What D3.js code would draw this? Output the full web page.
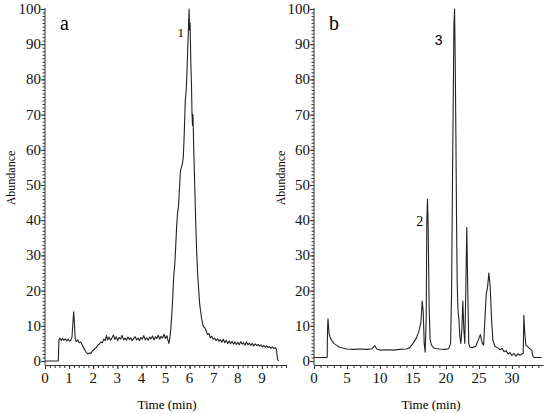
<!DOCTYPE html>
<meta charset="utf-8">
<style>
  body { margin: 0; background: #fff; }
</style>
<svg width="550" height="414"></svg>
<script src="https://d3js.org/d3.v7.min.js"></script>
<script>

// panel a: retention time (min) and abundance
var timeA = [0, 0.5, 0.55, 0.58, 0.62, 0.68, 0.72, 0.78, 0.84, 0.9, 0.96, 1.02, 1.08, 1.12, 1.16, 1.19, 1.22, 1.25, 1.3, 1.36,
  1.42, 1.48, 1.54, 1.6, 1.66, 1.72, 1.78, 1.84, 1.9, 1.96, 2.02, 2.08, 2.14, 2.2, 2.26, 2.32, 2.38, 2.44, 2.5, 2.55,
  2.6, 2.66, 2.72, 2.78, 2.84, 2.9, 2.96, 3.02, 3.08, 3.14, 3.2, 3.26, 3.32, 3.38, 3.44, 3.5, 3.56, 3.62, 3.68, 3.74,
  3.8, 3.86, 3.92, 3.98, 4.04, 4.1, 4.16, 4.22, 4.28, 4.34, 4.4, 4.46, 4.52, 4.58, 4.64, 4.7, 4.76, 4.82, 4.88, 4.94,
  5.0, 5.06, 5.1, 5.14, 5.18, 5.22, 5.26, 5.3, 5.34, 5.38, 5.42, 5.46, 5.5, 5.54, 5.58, 5.62, 5.66, 5.7, 5.74, 5.78,
  5.82, 5.85, 5.88, 5.92, 5.96, 5.98, 6.0, 6.02, 6.05, 6.08, 6.1, 6.12, 6.14, 6.18, 6.22, 6.26, 6.3, 6.34, 6.38, 6.42,
  6.46, 6.5, 6.56, 6.62, 6.68, 6.74, 6.8, 6.86, 6.92, 6.98, 7.04, 7.1, 7.16, 7.22, 7.28, 7.34, 7.4, 7.46, 7.52, 7.58,
  7.64, 7.7, 7.76, 7.82, 7.88, 7.94, 8.0, 8.06, 8.12, 8.18, 8.24, 8.3, 8.36, 8.42, 8.48, 8.54, 8.6, 8.66, 8.72, 8.78,
  8.84, 8.9, 8.96, 9.02, 9.08, 9.14, 9.2, 9.26, 9.32, 9.38, 9.44, 9.5, 9.56, 9.6, 9.63, 9.66, 9.7];
var abundA = [0, 0, 0, 6, 6.5, 5.8, 6.4, 5.9, 6.3, 5.7, 6.2, 5.6, 6.0, 6.8, 11, 14, 11, 6.5, 5.5, 6.0,
  5.2, 5.4, 4.6, 3.8, 3.0, 2.4, 2.0, 2.3, 2.1, 2.8, 3.2, 3.6, 3.9, 4.6, 4.8, 5.4, 5.2, 6.2, 5.8, 7.2,
  6.0, 6.8, 5.9, 6.6, 7.4, 6.1, 6.9, 5.8, 6.7, 6.2, 7.3, 6.0, 6.5, 5.9, 6.8, 6.1, 6.6, 5.8, 6.4, 6.9,
  6.0, 6.5, 5.8, 6.7, 6.2, 7.2, 6.0, 6.6, 5.9, 6.8, 6.3, 7.1, 6.0, 6.9, 6.4, 7.3, 6.2, 7.0, 6.5, 7.6,
  6.4, 7.2, 6.0, 5.0, 6.5, 9, 13, 18, 24, 27, 32, 38, 42, 44, 49, 54, 55, 56, 58, 65,
  74, 76, 80, 88, 96, 100, 94, 96, 85, 78, 70, 67, 70, 58, 48, 38, 30, 24, 20, 16,
  14, 12, 10, 9.5, 8.8, 7.5, 7.8, 6.6, 7.0, 6.2, 6.5, 5.8, 6.3, 5.6, 6.1, 5.3, 6.2, 5.2, 5.9, 5.0,
  5.7, 4.9, 5.6, 4.8, 5.4, 4.7, 5.3, 4.6, 5.5, 4.8, 5.2, 4.5, 5.4, 4.6, 5.1, 4.4, 5.0, 4.3, 4.9, 4.4,
  4.7, 4.2, 4.6, 4.0, 4.4, 3.9, 4.3, 3.8, 4.1, 3.6, 4.0, 3.5, 3.8, 3.4, 1.5, 0.3, 0];

// panel b
var timeB = [0, 1.95, 2.0, 2.05, 2.12, 2.2, 2.3, 2.5, 2.7, 3.0, 3.4, 3.8, 4.3, 5, 6, 7, 8, 8.8, 9.2, 9.5,
  10, 11, 12, 13, 14, 14.5, 15, 15.5, 15.9, 16.2, 16.4, 16.55, 16.7, 16.85, 17.0, 17.1, 17.2, 17.3, 17.45, 17.6,
  17.8, 18.2, 19, 19.8, 20.4, 20.7, 20.85, 21.0, 21.1, 21.2, 21.3, 21.4, 21.5, 21.6, 21.7, 21.8, 21.95, 22.1, 22.25, 22.4,
  22.55, 22.7, 22.85, 23.0, 23.15, 23.3, 23.45, 23.6, 24, 24.5, 24.9, 25.2, 25.5, 25.7, 25.9, 26.1, 26.3, 26.5, 26.7, 26.9,
  27.1, 27.4, 27.8, 28.2, 28.5, 28.8, 29.1, 29.4, 29.7, 30.0, 30.3, 30.6, 30.9, 31.2, 31.5, 31.7, 31.8, 31.9, 32.1, 32.4,
  32.7, 33.0, 33.2, 33.4, 34.5];
var abundB = [1, 1, 1.2, 9, 12, 10, 7.5, 6.5, 5.8, 5.0, 4.5, 4.0, 3.7, 3.4, 3.3, 3.4, 3.3, 3.5, 4.4, 3.4,
  3.1, 3.2, 3.1, 3.3, 3.4, 3.8, 5, 6.5, 8.5, 11, 17, 14, 5, 2.5, 12, 40, 46, 38, 15, 6,
  4.5, 3.6, 3.4, 3.3, 3.5, 5, 20, 55, 74, 95, 100, 85, 64, 40, 22, 15, 12, 7, 5, 9,
  17, 9, 5, 20, 38, 20, 5, 4, 3.8, 4.2, 6, 7.5, 5, 4.5, 12, 19, 21, 25, 21, 12,
  6, 4.2, 3.8, 3.2, 3.6, 2.6, 3.0, 2.0, 2.4, 1.5, 2.2, 1.4, 2.1, 1.6, 2.0, 2.2, 13, 9, 4.5, 4.0,
  3.5, 3.0, 1.2, 1.0, 1.0];

var yMajor = d3.range(0, 101, 10),
    yMinor = d3.range(0, 101, 1),
    xMajorA = d3.range(0, 10, 1),
    xMinorA = d3.range(0, 10.01, 0.2),
    xMajorB = d3.range(0, 31, 5),
    xMinorB = d3.range(0, 35, 1);

var serif = "Liberation Serif";

var svg = d3.select("svg");

var y = d3.scaleLinear().domain([0, 100]).range([361, 9]),
    axisY = 365;

var xA = d3.scaleLinear().domain([0, 10]).range([45, 286]),
    xB = d3.scaleLinear().domain([0, 34.7]).range([314, 543]);

function panel(x, times, vals, majors, minors, label, ylabX, titleX) {
  var g = svg.append("g");
  var x0 = x.range()[0];

  // y axis: ticks from d3.axisLeft, labels drawn beside them
  var ya = g.append("g").attr("transform", "translate(" + x0 + ",0)");
  ya.append("g").call(d3.axisLeft(y).tickValues(yMinor).tickSize(2.5).tickFormat(""));
  ya.append("g").call(d3.axisLeft(y).tickValues(yMajor).tickSize(4).tickFormat(""));
  ya.selectAll(".domain").remove();
  ya.selectAll("line").attr("stroke", "#333");
  ya.append("line").attr("x1", 0).attr("x2", 0).attr("y1", y(100) - 1).attr("y2", axisY).attr("stroke", "#333");
  g.append("g").selectAll("text").data(yMajor).join("text")
    .attr("x", x0 - 4)
    .attr("y", function(d) { return y(d) + 5; })
    .attr("text-anchor", "end")
    .attr("font-family", serif).attr("font-size", 15).attr("fill", "#111")
    .text(function(d) { return d; });

  // x axis
  var xa = g.append("g").attr("transform", "translate(0," + axisY + ")");
  xa.append("g").call(d3.axisBottom(x).tickValues(minors).tickSize(3).tickFormat("").tickSizeOuter(0));
  xa.append("g").call(d3.axisBottom(x).tickValues(majors).tickSize(4).tickFormat("").tickSizeOuter(0));
  xa.selectAll("line, path").attr("stroke", "#333");
  g.append("g").selectAll("text").data(majors).join("text")
    .attr("x", function(d) { return x(d); })
    .attr("y", axisY + 18)
    .attr("text-anchor", "middle")
    .attr("font-family", serif).attr("font-size", 15).attr("fill", "#111")
    .text(function(d) { return d; });

  var line = d3.line().x(function(d) { return x(d[0]); }).y(function(d) { return y(d[1]); });
  g.append("path")
    .datum(d3.zip(times, vals))
    .attr("d", line)
    .attr("fill", "none")
    .attr("stroke", "#222")
    .attr("stroke-width", 1.1)
    .attr("stroke-linejoin", "round");

  g.append("text").attr("transform", "translate(" + ylabX + ",178) rotate(-90)")
    .attr("text-anchor", "middle").attr("font-family", serif).attr("font-size", 12).text("Abundance");
  g.append("text").attr("x", titleX).attr("y", 409)
    .attr("text-anchor", "middle").attr("font-family", serif).attr("font-size", 13).text("Time (min)");
  g.append("text").attr("x", x0 + 15).attr("y", 30)
    .attr("font-family", serif).attr("font-size", 20).text(label);
  return g;
}

var ga = panel(xA, timeA, abundA, xMajorA, xMinorA, "a", 15, 167);
var gb = panel(xB, timeB, abundB, xMajorB, xMinorB, "b", 285, 431);

// peak labels
ga.append("text").attr("x", xA(5.5)).attr("y", 37)
  .attr("font-family", serif).attr("font-size", 13).text("1");
gb.append("text").attr("x", xB(15.5)).attr("y", 226)
  .attr("font-family", serif).attr("font-size", 14).text("2");
gb.append("text").attr("x", xB(18.3)).attr("y", 45)
  .attr("font-family", "Liberation Sans").attr("font-size", 14).text("3");

</script>
